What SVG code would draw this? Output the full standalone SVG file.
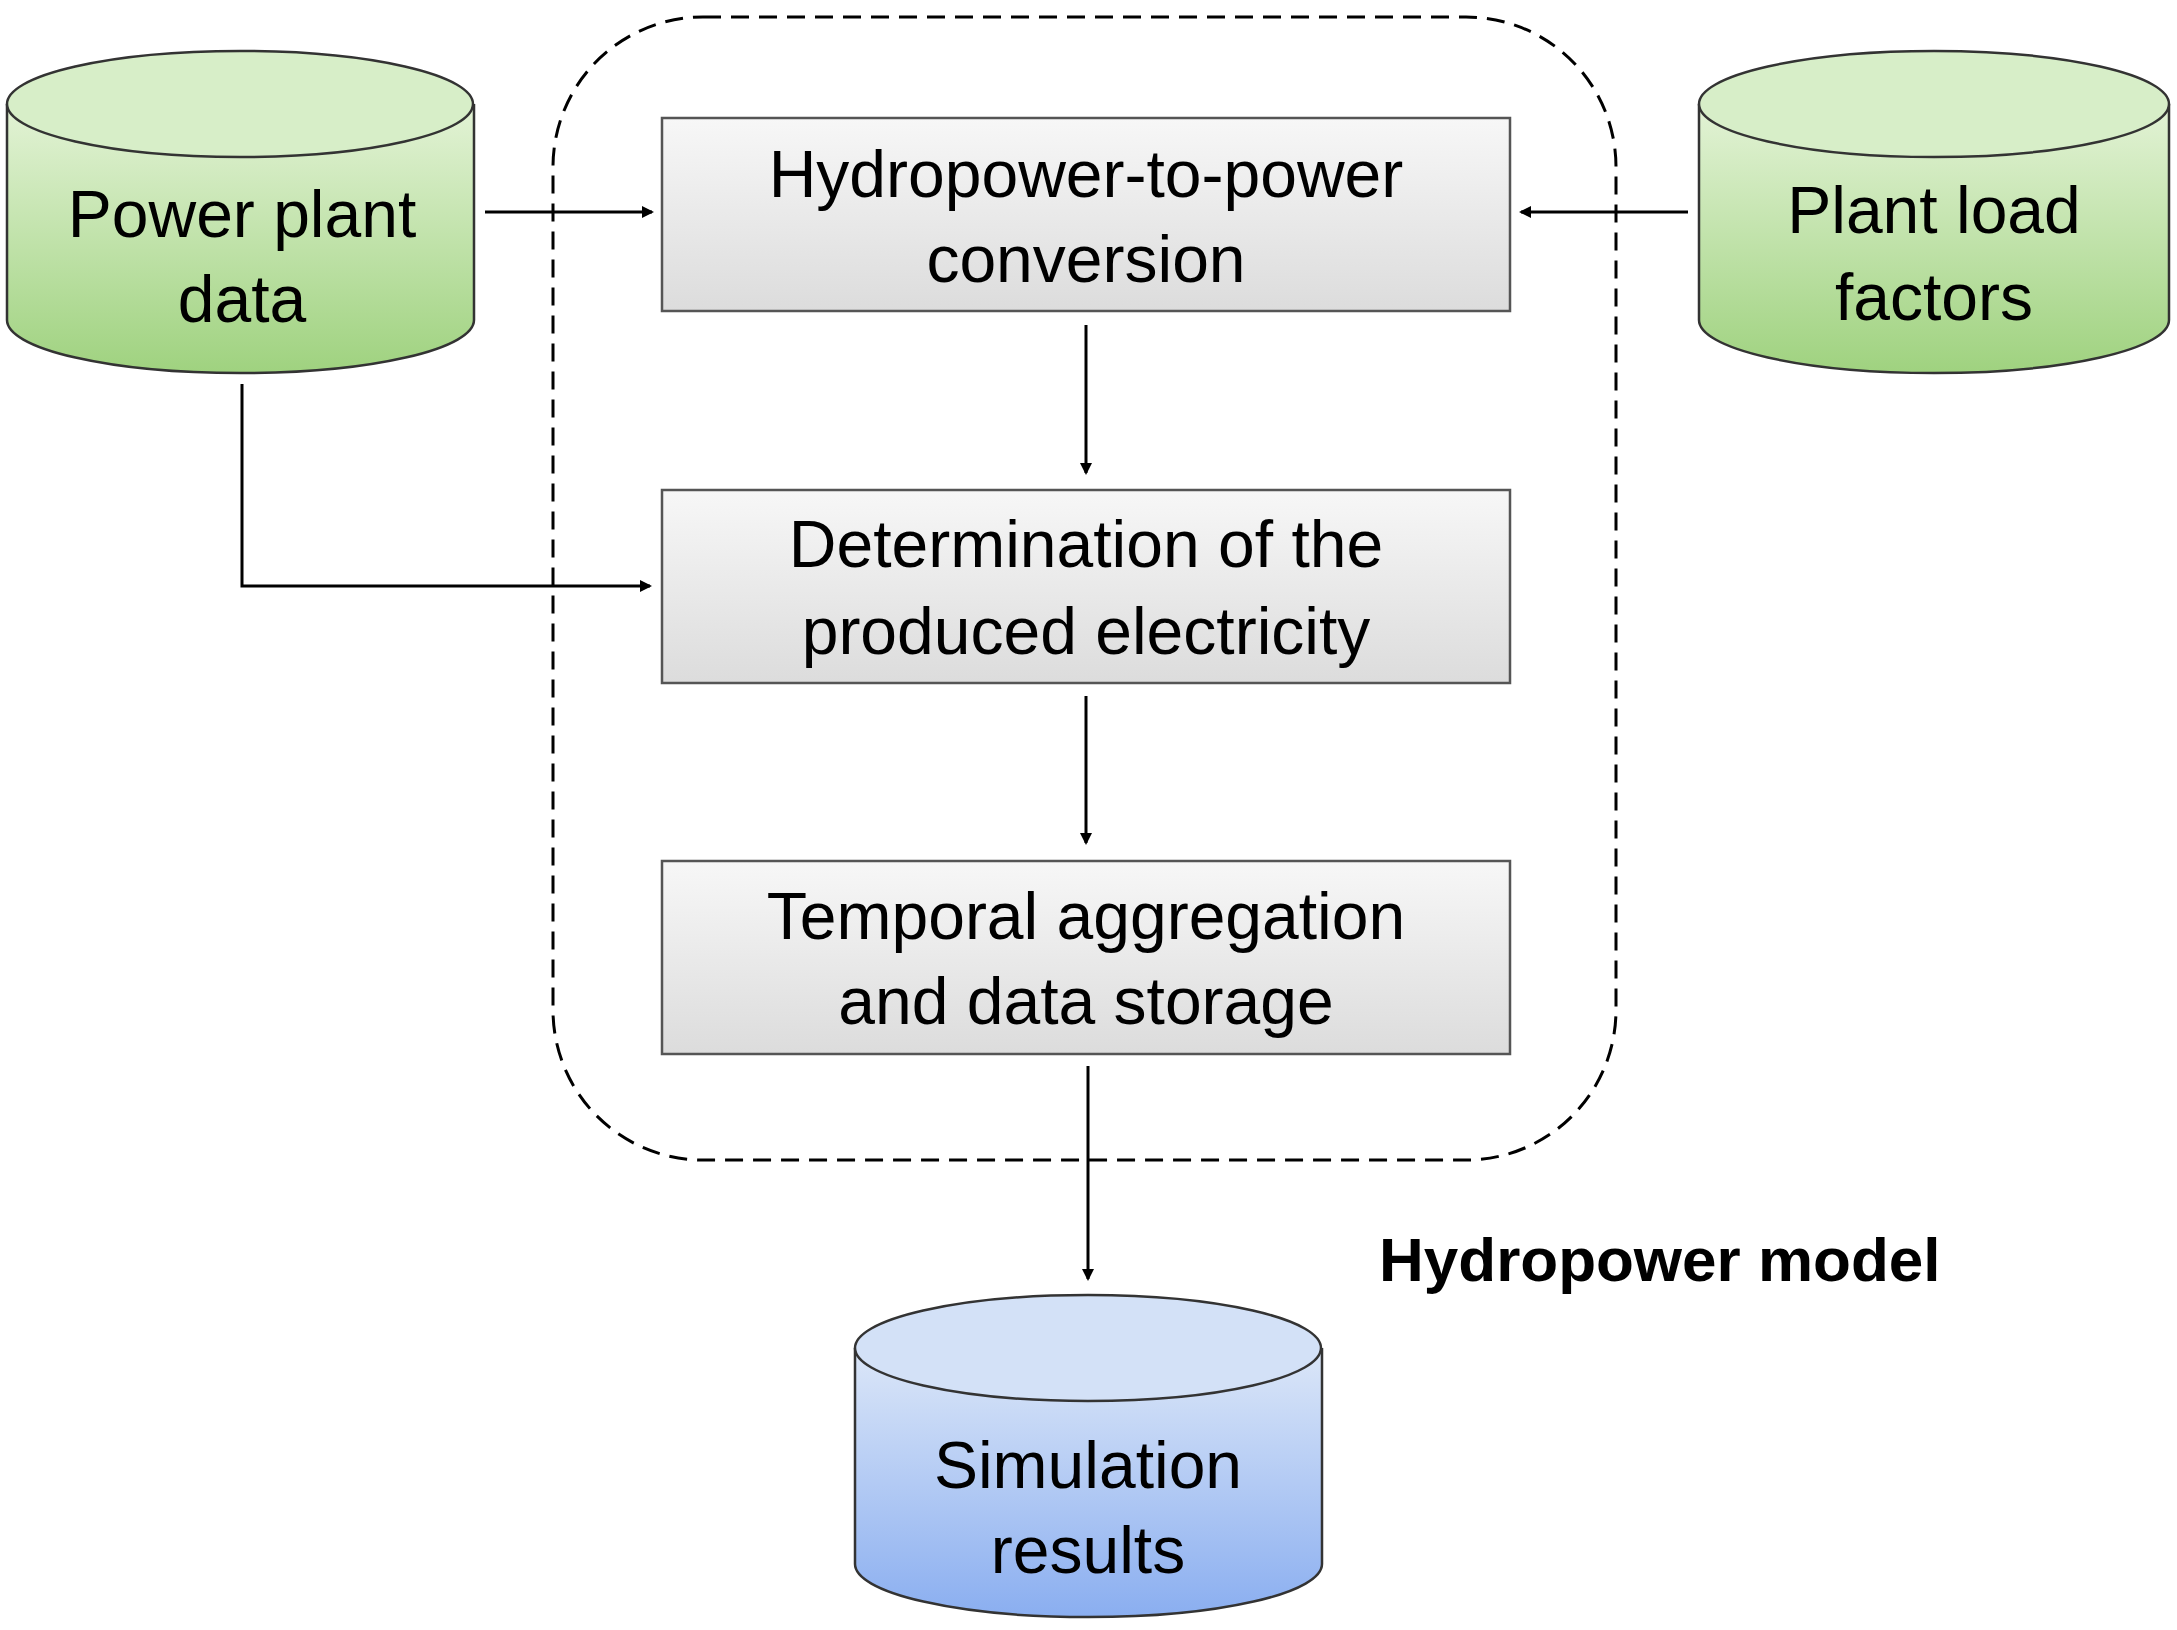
<svg xmlns="http://www.w3.org/2000/svg" width="2177" height="1630" viewBox="0 0 2177 1630">
<defs>
<linearGradient id="g" x1="0" y1="0" x2="0" y2="1"><stop offset="0" stop-color="#e3f3d6"/><stop offset="1" stop-color="#9fd27f"/></linearGradient>
<linearGradient id="b" x1="0" y1="0" x2="0" y2="1"><stop offset="0" stop-color="#dce7f8"/><stop offset="1" stop-color="#8aaef0"/></linearGradient>
<linearGradient id="gr" x1="0" y1="0" x2="0" y2="1"><stop offset="0" stop-color="#f7f7f7"/><stop offset="1" stop-color="#dcdcdc"/></linearGradient>
<marker id="a" markerWidth="12" markerHeight="12" refX="10" refY="6" orient="auto" markerUnits="userSpaceOnUse"><path d="M0,0 L12,6 L0,12 z" fill="#000"/></marker>
<style>
.t{font-family:"Liberation Sans",Arial,sans-serif;font-size:66px;text-anchor:middle;fill:#000}
.box{fill:url(#gr);stroke:#555;stroke-width:2.5}
.cyl{stroke:#333;stroke-width:2.5}
.c{stroke:#000;stroke-width:3;fill:none;marker-end:url(#a)}
</style>
</defs>
<rect x="553" y="17" width="1063" height="1143" rx="150" fill="none" stroke="#000" stroke-width="3" stroke-dasharray="18,10"/>
<g id="ppd">
<path class="cyl" fill="url(#g)" d="M7,104 V320 A233,53 0 0 0 474,320 V104"/>
<ellipse class="cyl" fill="#d7eec8" cx="240" cy="104" rx="233" ry="53"/>
<text class="t" x="242" y="237">Power plant</text><text class="t" x="242" y="322">data</text>
</g>
<g id="plf">
<path class="cyl" fill="url(#g)" d="M1699,104 V320 A235,53 0 0 0 2169,320 V104"/>
<ellipse class="cyl" fill="#d7eec8" cx="1934" cy="104" rx="235" ry="53"/>
<text class="t" x="1934" y="233">Plant load</text><text class="t" x="1934" y="320">factors</text>
</g>
<g id="b1"><rect class="box" x="662" y="118" width="848" height="193"/>
<text class="t" x="1086" y="197">Hydropower-to-power</text><text class="t" x="1086" y="282">conversion</text></g>
<g id="b2"><rect class="box" x="662" y="490" width="848" height="193"/>
<text class="t" x="1086" y="567">Determination of the</text><text class="t" x="1086" y="654">produced electricity</text></g>
<g id="b3"><rect class="box" x="662" y="861" width="848" height="193"/>
<text class="t" x="1086" y="939">Temporal aggregation</text><text class="t" x="1086" y="1024">and data storage</text></g>
<g id="sim">
<path class="cyl" fill="url(#b)" d="M855,1348 V1564 A233,53 0 0 0 1322,1564 V1348"/>
<ellipse class="cyl" fill="#d3e1f7" cx="1088" cy="1348" rx="233" ry="53"/>
<text class="t" x="1088" y="1488">Simulation</text><text class="t" x="1088" y="1573">results</text>
</g>
<text x="1379" y="1281" font-family="Liberation Sans,Arial,sans-serif" font-weight="bold" font-size="62">Hydropower model</text>
<g id="connectors">
<line class="c" x1="485" y1="212" x2="652" y2="212"/>
<line class="c" x1="1688" y1="212" x2="1521" y2="212"/>
<line class="c" x1="1086" y1="325" x2="1086" y2="473"/>
<line class="c" x1="1086" y1="696" x2="1086" y2="843"/>
<line class="c" x1="1088" y1="1066" x2="1088" y2="1279"/>
<polyline class="c" points="242,384 242,586 650,586"/>
</g>
</svg>
